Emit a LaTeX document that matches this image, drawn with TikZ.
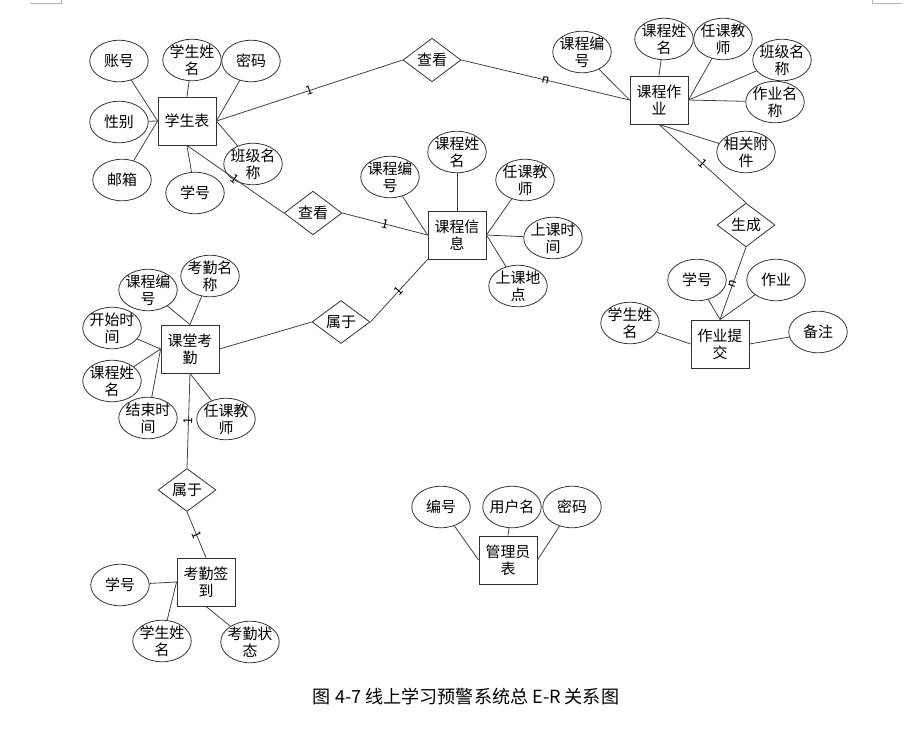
\documentclass[tikz,border=0pt]{standalone}
\usepackage{fontspec}
\setmainfont{Noto Sans CJK SC}
\usetikzlibrary{shapes.geometric,positioning}

\begin{document}
\begin{tikzpicture}[
  x=0.02cm, y=-0.02cm,
  font=\fontsize{8.5}{9.8}\selectfont,
  ent/.style={draw=black!80, line width=0.5pt, rectangle,
              minimum width=1.16cm, minimum height=0.96cm,
              align=center, inner sep=1pt},
  attr/.style={draw=black!80, line width=0.45pt, ellipse,
               minimum width=1.17cm, minimum height=0.83cm,
               align=center, inner sep=-1.2pt},
  rel/.style={draw=black!80, line width=0.45pt, diamond,
              minimum width=1.16cm, minimum height=0.84cm, inner sep=0pt},
  ln/.style={draw=black!75, line width=0.45pt},
  card/.style={sloped, font=\fontsize{7}{7}\selectfont, inner sep=0pt},
]
  \useasboundingbox (0,0) rectangle (914,735);
  \draw[gray!60, line width=0.4pt] (30,3) -- (61,3) -- (61,0);
  \draw[gray!60, line width=0.4pt] (872,0) -- (872,3) -- (902,3);

  \node[ent] (stu)  at (187,121) {学生表};
  \node[ent] (hw)   at (659,100) {课程作\\业};
  \node[ent] (info) at (457,235) {课程信\\息};
  \node[ent] (sub)  at (720,344) {作业提\\交};
  \node[ent] (att)  at (190,349) {课堂考\\勤};
  \node[ent] (sign) at (206,582) {考勤签\\到};
  \node[ent] (adm)  at (508,560) {管理员\\表};

  \node[rel] (see1) at (432,60)  {查看};
  \node[rel] (see2) at (313,213) {查看};
  \node[rel] (bel1) at (341,322) {属于};
  \node[rel] (bel2) at (187,490) {属于};
  \node[rel] (gen)  at (746,225) {生成};

  \node[attr] (zh)    at (119,61)  {账号};
  \node[attr] (sname) at (192,60)  {学生姓\\名};
  \node[attr] (pwd)   at (251,61)  {密码};
  \node[attr] (sex)   at (119,122) {性别};
  \node[attr] (mail)  at (122,180) {邮箱};
  \node[attr] (sno)   at (195,193) {学号};
  \node[attr] (cls)   at (253,164) {班级名\\称};

  \node[attr] (h1) at (582,52)  {课程编\\号};
  \node[attr] (h2) at (664,39)  {课程姓\\名};
  \node[attr] (h3) at (723,39)  {任课教\\师};
  \node[attr] (h4) at (782,60)  {班级名\\称};
  \node[attr] (h5) at (775,102) {作业名\\称};
  \node[attr] (h6) at (746,152) {相关附\\件};

  \node[attr] (i1) at (390,177) {课程编\\号};
  \node[attr] (i2) at (457,152) {课程姓\\名};
  \node[attr] (i3) at (525,180) {任课教\\师};
  \node[attr] (i4) at (553,238) {上课时\\间};
  \node[attr] (i5) at (518,286) {上课地\\点};

  \node[attr] (a1) at (148,290) {课程编\\号};
  \node[attr] (a2) at (210,276) {考勤名\\称};
  \node[attr] (a3) at (112,328) {开始时\\间};
  \node[attr] (a4) at (112,381) {课程姓\\名};
  \node[attr] (a5) at (148,418) {结束时\\间};
  \node[attr] (a6) at (226,419) {任课教\\师};

  \node[attr] (s1) at (120,585) {学号};
  \node[attr] (s2) at (162,641) {学生姓\\名};
  \node[attr] (s3) at (250,642) {考勤状\\态};

  \node[attr] (m1) at (441,507) {编号};
  \node[attr] (m2) at (512,507) {用户名};
  \node[attr] (m3) at (572,507) {密码};

  \node[attr] (t1) at (697,280) {学号};
  \node[attr] (t2) at (776,280) {作业};
  \node[attr] (t3) at (630,323) {学生姓\\名};
  \node[attr] (t4) at (818,332) {备注};

  \foreach \a/\b in {zh/west, sex/west, mail/west, sname/north, pwd/east, cls/east, sno/south}
    \draw[ln] (\a) -- (stu.\b);
  \foreach \a/\b in {h1/west, h2/north, h3/east, h4/east, h5/east, h6/south}
    \draw[ln] (\a) -- (hw.\b);
  \foreach \a/\b in {i1/west, i2/north, i3/east, i4/east, i5/east}
    \draw[ln] (\a) -- (info.\b);
  \foreach \a/\b in {a1/north, a2/north, a3/west, a4/west, a5/west, a6/south}
    \draw[ln] (\a) -- (att.\b);
  \foreach \a/\b in {s1/west, s2/west, s3/south}
    \draw[ln] (\a) -- (sign.\b);
  \foreach \a/\b in {m1/west, m2/north, m3/east}
    \draw[ln] (\a) -- (adm.\b);
  \foreach \a/\b in {t1/north, t2/north, t3/west, t4/east}
    \draw[ln] (\a) -- (sub.\b);

  \draw[ln] (stu.east) -- node[card]{1} (see1.west);
  \draw[ln] (see1.east) -- node[card]{n} (hw.west);
  \draw[ln] (stu.south) -- node[card]{1} (see2.west);
  \draw[ln] (see2.east) -- node[card]{1} (info.west);
  \draw[ln] (info.south west) -- node[card]{1} (bel1.east);
  \draw[ln] (att.east) -- (bel1.west);
  \draw[ln] (att.south) -- node[card]{1} (bel2.north);
  \draw[ln] (bel2.south) -- node[card]{1} (sign.north);
  \draw[ln] (hw.south) -- node[card]{1} (gen.north);
  \draw[ln] (gen.south) -- node[card]{n} (sub.north);

  \node[font=\fontsize{10.3}{12}\selectfont] (cap) at (466,697) {图 4-7 线上学习预警系统总 E-R 关系图};
\end{tikzpicture}
\end{document}
